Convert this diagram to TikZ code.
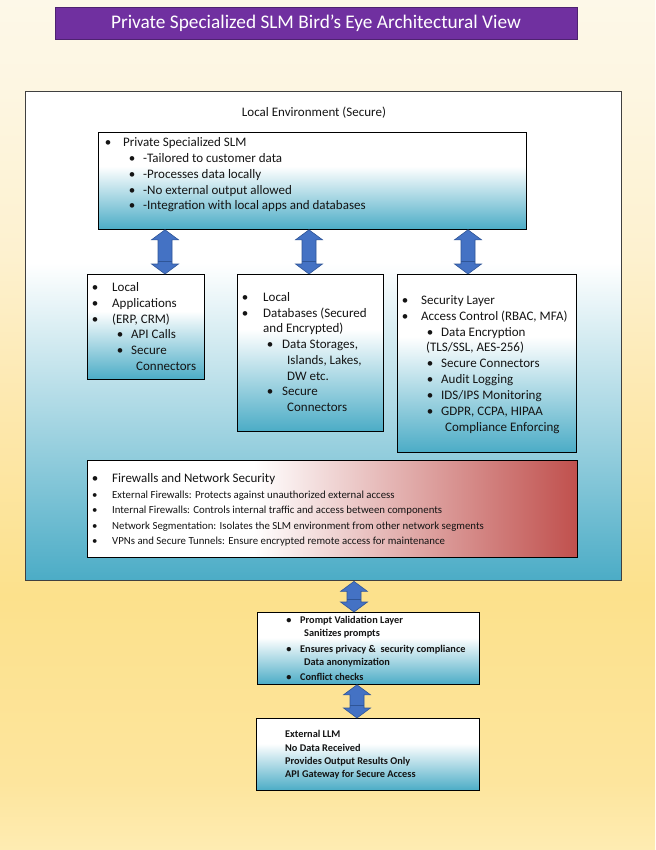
\documentclass[tikz,border=0pt]{standalone}
\usepackage{fontspec}
\setmainfont{Carlito}
\usetikzlibrary{calc}
\definecolor{bgA}{HTML}{FEECB2}
\definecolor{bgB}{HTML}{FDE59D}
\definecolor{bgC}{HTML}{FCE18C}
\definecolor{bgD}{HTML}{FDE8AE}
\definecolor{bgE}{HTML}{FDF1CF}
\definecolor{bgF}{HTML}{FDF6E2}
\definecolor{bgG}{HTML}{FDF8E8}
\definecolor{tealD}{HTML}{4BACC6}
\definecolor{redD}{HTML}{C0504D}
\definecolor{purp}{HTML}{7030A0}
\definecolor{arrowfill}{HTML}{4472C4}
\definecolor{arrowedge}{HTML}{2F5597}
\definecolor{txtc}{HTML}{141414}
\pgfdeclareverticalshading{bgshade}{100bp}{color(0bp)=(bgA); color(25bp)=(bgA); color(29bp)=(bgB); color(40bp)=(bgC); color(51bp)=(bgD); color(60bp)=(bgE); color(70bp)=(bgF); color(75bp)=(bgG); color(100bp)=(bgG)}
\pgfdeclareverticalshading{tealshade}{100bp}{color(0bp)=(tealD); color(25bp)=(tealD); color(57.5bp)=(white); color(100bp)=(white)}
\pgfdeclarehorizontalshading{redshade}{100bp}{color(0bp)=(white); color(25bp)=(white); color(42bp)=(white); color(75bp)=(redD); color(100bp)=(redD)}
\newcommand\bul[1]{\makebox[0pt][r]{\makebox[#1pt][l]{\textbullet}}}
\newcommand\blockarrow[2]{%
  \draw[blockarr] (#1) -- ($(#1)+(13.5,10)$) -- ($(#1)+(7,10)$) -- ($(#2)+(7,-10)$) -- ($(#2)+(13.5,-10)$) -- (#2) -- ($(#2)+(-13.5,-10)$) -- ($(#2)+(-7,-10)$) -- ($(#1)+(-7,10)$) -- ($(#1)+(-13.5,10)$) -- cycle;
  \draw[arrowedge, line width=0.8pt] ($(#2)+(-7,-13)$) -- ($(#2)+(7,-13)$);}
\begin{document}
\begin{tikzpicture}[x=1pt,y=-1pt,
  box/.style={draw=black, line width=0.8pt, shade, shading=tealshade, rectangle, inner sep=0pt, anchor=north west},
  blockarr/.style={fill=arrowfill, draw=arrowedge, line width=0.6pt, line join=miter},
  t13/.style={anchor=base west, inner sep=0pt, text=txtc, font=\fontsize{13}{16}\selectfont},
  t10/.style={anchor=base west, inner sep=0pt, text=txtc, font=\fontsize{10.8}{13}\selectfont},
  tb/.style={anchor=base west, inner sep=0pt, text=txtc, font=\fontsize{10.3}{12}\selectfont\bfseries}]
\useasboundingbox (0,0) rectangle (655,850);
\path[shade, shading=bgshade] (0,0) rectangle (655,850);
% title
\node[fill=purp, draw=purp!70!black, line width=0.6pt, minimum width=522pt, minimum height=32pt, inner sep=0pt, text=white, font=\fontsize{19.3}{22}\selectfont] (title) at (316,23) {Private Specialized SLM Bird’s Eye Architectural View};
% big box
\node[box, draw=black!75, line width=1.4pt, minimum width=596pt, minimum height=489pt] (env) at (25,91) {};
\node[t13, anchor=base] (envlabel) at (314,117) {Local Environment (Secure)};
% SLM box
\node[box, minimum width=428pt, minimum height=97pt] (slm) at (98,132) {};
% second row
\node[box, minimum width=117pt, minimum height=105pt] (apps) at (87,274) {};
\node[box, minimum width=146pt, minimum height=157pt] (db) at (237,274) {};
\node[box, minimum width=179pt, minimum height=178pt] (sec) at (397,274) {};
% firewall
\node[draw=black, line width=0.8pt, shade, shading=redshade, rectangle, inner sep=0pt, anchor=north west, minimum width=490pt, minimum height=97pt] (fw) at (87,460) {};
% prompt and llm
\node[box, minimum width=222pt, minimum height=72pt] (prompt) at (257,612) {};
\node[box, minimum width=223pt, minimum height=72pt] (llm) at (256,718) {};
% arrows
\coordinate (ax1) at (165,0);
\coordinate (ax2) at (309,0);
\coordinate (ax3) at (468,0);
\coordinate (ax4) at (354,0);
\coordinate (ax5) at (357,0);
\coordinate (a1t) at (slm.south -| ax1); \coordinate (a1b) at (apps.north -| ax1);
\coordinate (a2t) at (slm.south -| ax2); \coordinate (a2b) at (db.north -| ax2);
\coordinate (a3t) at (slm.south -| ax3); \coordinate (a3b) at (sec.north -| ax3);
\coordinate (a4t) at (env.south -| ax4); \coordinate (a4b) at (prompt.north -| ax4);
\coordinate (a5t) at (prompt.south -| ax5); \coordinate (a5b) at (llm.north -| ax5);
\blockarrow{a1t}{a1b}
\blockarrow{a2t}{a2b}
\blockarrow{a3t}{a3b}
\blockarrow{a4t}{a4b}
\blockarrow{a5t}{a5b}
% SLM text
\node[t13] (s1) at (123,147) {\bul{18.3}Private Specialized SLM};
\node[t13] (s2) at (143,163) {\bul{14.3}-Tailored to customer data};
\node[t13] (s3) at (143,179) {\bul{14.3}-Processes data locally};
\node[t13] (s4) at (143,195) {\bul{14.3}-No external output allowed};
\node[t13] (s5) at (143,210) {\bul{14.3}-Integration with local apps and databases};
% apps text
\node[t13] (p1) at (112,291) {\bul{20.3}Local};
\node[t13] (p2) at (112,307) {\bul{20.3}Applications};
\node[t13] (p3) at (112,323) {\bul{20.3}(ERP, CRM)};
\node[t13] (p4) at (131,338) {\bul{14.3}API Calls};
\node[t13] (p5) at (131,354) {\bul{14.3}Secure};
\node[t13] (p6) at (136,370) {Connectors};
% db text
\node[t13] (d1) at (263,301) {\bul{21.3}Local};
\node[t13] (d2) at (263,317) {\bul{21.3}Databases (Secured};
\node[t13] (d3) at (263,332) {and Encrypted)};
\node[t13] (d4) at (282,348) {\bul{15.3}Data Storages,};
\node[t13] (d5) at (287,364) {Islands, Lakes,};
\node[t13] (d6) at (287,380) {DW etc.};
\node[t13] (d7) at (282,395) {\bul{15.3}Secure};
\node[t13] (d8) at (287,411) {Connectors};
% security text
\node[t13] (c1) at (421,304) {\bul{19.3}Security Layer};
\node[t13] (c2) at (421,320) {\bul{19.3}Access Control (RBAC, MFA)};
\node[t13] (c3) at (441,336) {\bul{14.3}Data Encryption};
\node[t13] (c4) at (426,351) {(TLS/SSL, AES-256)};
\node[t13] (c5) at (441,367) {\bul{14.3}Secure Connectors};
\node[t13] (c6) at (441,383) {\bul{14.3}Audit Logging};
\node[t13] (c7) at (441,399) {\bul{14.3}IDS/IPS Monitoring};
\node[t13] (c8) at (441,415) {\bul{14.3}GDPR, CCPA, HIPAA};
\node[t13] (c9) at (445,431) {Compliance Enforcing};
% firewall text
\node[t13] (f1) at (112,482) {\bul{20.3}Firewalls and Network Security};
\node[t10] (f2) at (112,498) {\bul{20}External Firewalls: Protects against unauthorized external access};
\node[t10] (f3) at (112,513) {\bul{20}Internal Firewalls: Controls internal traffic and access between components};
\node[t10] (f4) at (112,529) {\bul{20}Network Segmentation: Isolates the SLM environment from other network segments};
\node[t10] (f5) at (112,544) {\bul{20}VPNs and Secure Tunnels: Ensure encrypted remote access for maintenance};
% prompt text
\node[tb] (v1) at (300,623.5) {\bul{13.9}Prompt Validation Layer};
\node[tb] (v2) at (304,636.5) {Sanitizes prompts};
\node[tb] (v3) at (300,652.5) {\bul{13.9}Ensures privacy \&\ \ security compliance};
\node[tb] (v4) at (304,665.5) {Data anonymization};
\node[tb] (v5) at (300,680.5) {\bul{13.9}Conflict checks};
% llm text
\node[tb] (e1) at (285,737.5) {External LLM};
\node[tb] (e2) at (285,751.5) {No Data Received};
\node[tb] (e3) at (285,764.5) {Provides Output Results Only};
\node[tb] (e4) at (285,777.5) {API Gateway for Secure Access};
\end{tikzpicture}
\end{document}
